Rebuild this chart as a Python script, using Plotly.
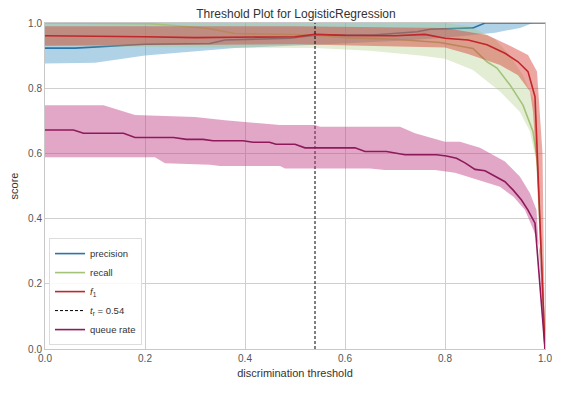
import plotly.graph_objects as go

# ---------------- data ----------------
prec_x = [0.0, 0.06, 0.2, 0.33, 0.36, 0.49, 0.544, 0.656, 0.744, 0.77, 0.856, 0.876, 0.88, 1.0]
prec_y = [0.923, 0.923, 0.935, 0.937, 0.948, 0.953, 0.963, 0.963, 0.973, 0.981, 0.985, 0.996, 1.0, 1.0]
prec_lo_x = [0.0, 0.1, 0.2, 0.38, 0.54, 0.7, 0.8, 0.9, 0.95, 0.976, 1.0]
prec_lo = [0.876, 0.878, 0.90, 0.923, 0.933, 0.945, 0.955, 0.97, 0.985, 1.0, 1.0]
prec_hi_x = [0.0, 1.0]
prec_hi = [1.0, 1.0]

rec_x = [0.0, 0.2, 0.21, 0.324, 0.38, 0.54, 0.6, 0.7, 0.79, 0.856, 0.884, 0.904, 0.93, 0.956, 0.976, 0.984, 1.0]
rec_y = [1.0, 0.999, 0.998, 0.984, 0.968, 0.963, 0.955, 0.95, 0.94, 0.922, 0.881, 0.862, 0.81, 0.748, 0.667, 0.585, 0.0]
rec_lo_x = [0.0, 0.3, 0.54, 0.65, 0.75, 0.8, 0.856, 0.91, 0.95, 0.97, 0.985, 1.0]
rec_lo = [0.93, 0.925, 0.923, 0.915, 0.90, 0.89, 0.856, 0.79, 0.727, 0.667, 0.555, 0.0]
rec_hi_x = [0.0, 0.8, 0.85, 0.9, 0.93, 0.956, 0.976, 0.984, 1.0]
rec_hi = [1.0, 1.0, 0.99, 0.95, 0.90, 0.84, 0.77, 0.70, 0.0]

f1_x = [0.0, 0.1, 0.2, 0.3, 0.4, 0.5, 0.54, 0.6, 0.7, 0.76, 0.8, 0.846, 0.884, 0.92, 0.946, 0.966, 0.98, 1.0]
f1_y = [0.961, 0.96, 0.958, 0.955, 0.957, 0.958, 0.965, 0.962, 0.961, 0.965, 0.953, 0.948, 0.933, 0.907, 0.881, 0.851, 0.774, 0.0]
f1_lo_x = [0.0, 0.5, 0.8, 0.846, 0.91, 0.946, 0.97, 0.976, 0.99, 1.0]
f1_lo = [0.93, 0.935, 0.925, 0.905, 0.871, 0.84, 0.79, 0.728, 0.40, 0.0]
f1_hi_x = [0.0, 0.5, 0.8, 0.884, 0.93, 0.966, 0.984, 0.995, 1.0]
f1_hi = [0.99, 0.99, 0.985, 0.963, 0.93, 0.902, 0.851, 0.60, 0.0]

q_x = [0.0, 0.057, 0.077, 0.157, 0.18, 0.257, 0.283, 0.316, 0.336, 0.396, 0.416, 0.449, 0.462, 0.50,
       0.52, 0.62, 0.64, 0.683, 0.72, 0.783, 0.803, 0.823, 0.84, 0.86, 0.88, 0.90, 0.92, 0.936,
       0.953, 0.966, 0.98, 1.0]
q_y = [0.672, 0.672, 0.662, 0.662, 0.649, 0.649, 0.643, 0.643, 0.639, 0.639, 0.634, 0.634, 0.628, 0.628,
       0.617, 0.617, 0.606, 0.606, 0.596, 0.596, 0.592, 0.585, 0.571, 0.551, 0.547, 0.531, 0.513, 0.488,
       0.457, 0.426, 0.386, 0.0]
q_hi_x = [0.0, 0.117, 0.18, 0.3, 0.36, 0.47, 0.54, 0.55, 0.71, 0.74, 0.80, 0.83, 0.87, 0.92, 0.95, 0.97, 0.983, 1.0]
q_hi = [0.748, 0.748, 0.718, 0.712, 0.702, 0.687, 0.687, 0.682, 0.682, 0.662, 0.636, 0.636, 0.617, 0.575, 0.528, 0.478, 0.426, 0.0]
q_lo_x = [0.0, 0.22, 0.24, 0.33, 0.35, 0.47, 0.48, 0.65, 0.68, 0.78, 0.82, 0.87, 0.91, 0.937, 0.96, 0.977, 0.99, 1.0]
q_lo = [0.588, 0.588, 0.570, 0.565, 0.561, 0.561, 0.554, 0.554, 0.549, 0.549, 0.541, 0.518, 0.498, 0.467, 0.426, 0.365, 0.304, 0.0]

threshold = 0.54
tick_vals = [0.0, 0.2, 0.4, 0.6, 0.8, 1.0]
tick_text = ["0.0", "0.2", "0.4", "0.6", "0.8", "1.0"]

# ---------------- figure ----------------
FONT = "Liberation Sans, Arial, sans-serif"
fig = go.Figure()

def band(hx, hy, lx, ly, color):
    fig.add_trace(go.Scatter(
        x=list(hx) + list(lx)[::-1], y=list(hy) + list(ly)[::-1],
        fill="toself", fillcolor=color, line=dict(width=0), mode="lines",
        showlegend=False, hoverinfo="skip"))

def line(x, y, color, name):
    fig.add_trace(go.Scatter(x=x, y=y, mode="lines", name=name,
                             line=dict(color=color, width=1.6)))

band(prec_hi_x, prec_hi, prec_lo_x, prec_lo, "rgba(95,165,205,0.5)")
line(prec_x, prec_y, "#2b74a6", "precision")
band(rec_hi_x, rec_hi, rec_lo_x, rec_lo, "rgba(165,200,120,0.32)")
line(rec_x, rec_y, "#a3c27a", "recall")
band(f1_hi_x, f1_hi, f1_lo_x, f1_lo, "rgba(215,60,50,0.45)")
line(f1_x, f1_y, "#c0262a", "<i>f</i><sub>1</sub>")
fig.add_trace(go.Scatter(x=[threshold, threshold], y=[0, 1], mode="lines",
                         name="<i>t</i><sub>r</sub> = 0.54",
                         line=dict(color="black", width=1, dash="3px,2px")))
band(q_hi_x, q_hi, q_lo_x, q_lo, "rgba(190,60,130,0.45)")
line(q_x, q_y, "#8e1a5c", "queue rate")

axis = dict(range=[0, 1], tickvals=tick_vals, ticktext=tick_text, showgrid=True,
            gridcolor="#cfcfcf", gridwidth=1, showline=True, linecolor="#c8c8c8",
            linewidth=1, mirror=True, zeroline=False, ticks="", automargin=False,
            tickfont=dict(size=10, color="#555555", family=FONT))

# the page body adds an 8px margin, so the figure is sized/placed to compensate
fig.update_layout(
    width=576, height=387,
    margin=dict(l=37, r=39, t=15, b=46, autoexpand=False),
    plot_bgcolor="white", paper_bgcolor="white",
    title=dict(text="Threshold Plot for LogisticRegression", x=0.5, xanchor="center",
               y=0.985, yanchor="middle", font=dict(size=12, color="#333333", family=FONT)),
    xaxis=dict(axis, title=dict(text="discrimination threshold", standoff=6,
                                font=dict(size=11, color="#333333", family=FONT))),
    yaxis=dict(axis, title=dict(text="score", standoff=8,
                                font=dict(size=11, color="#333333", family=FONT))),
    legend=dict(x=0.008, y=0.012, xanchor="left", yanchor="bottom",
                bgcolor="rgba(255,255,255,0.85)", bordercolor="#dddddd", borderwidth=1,
                itemwidth=30,
                font=dict(size=9.5, color="#333333", family=FONT), tracegroupgap=0),
    showlegend=True,
)

fig.write_html("out.html")
